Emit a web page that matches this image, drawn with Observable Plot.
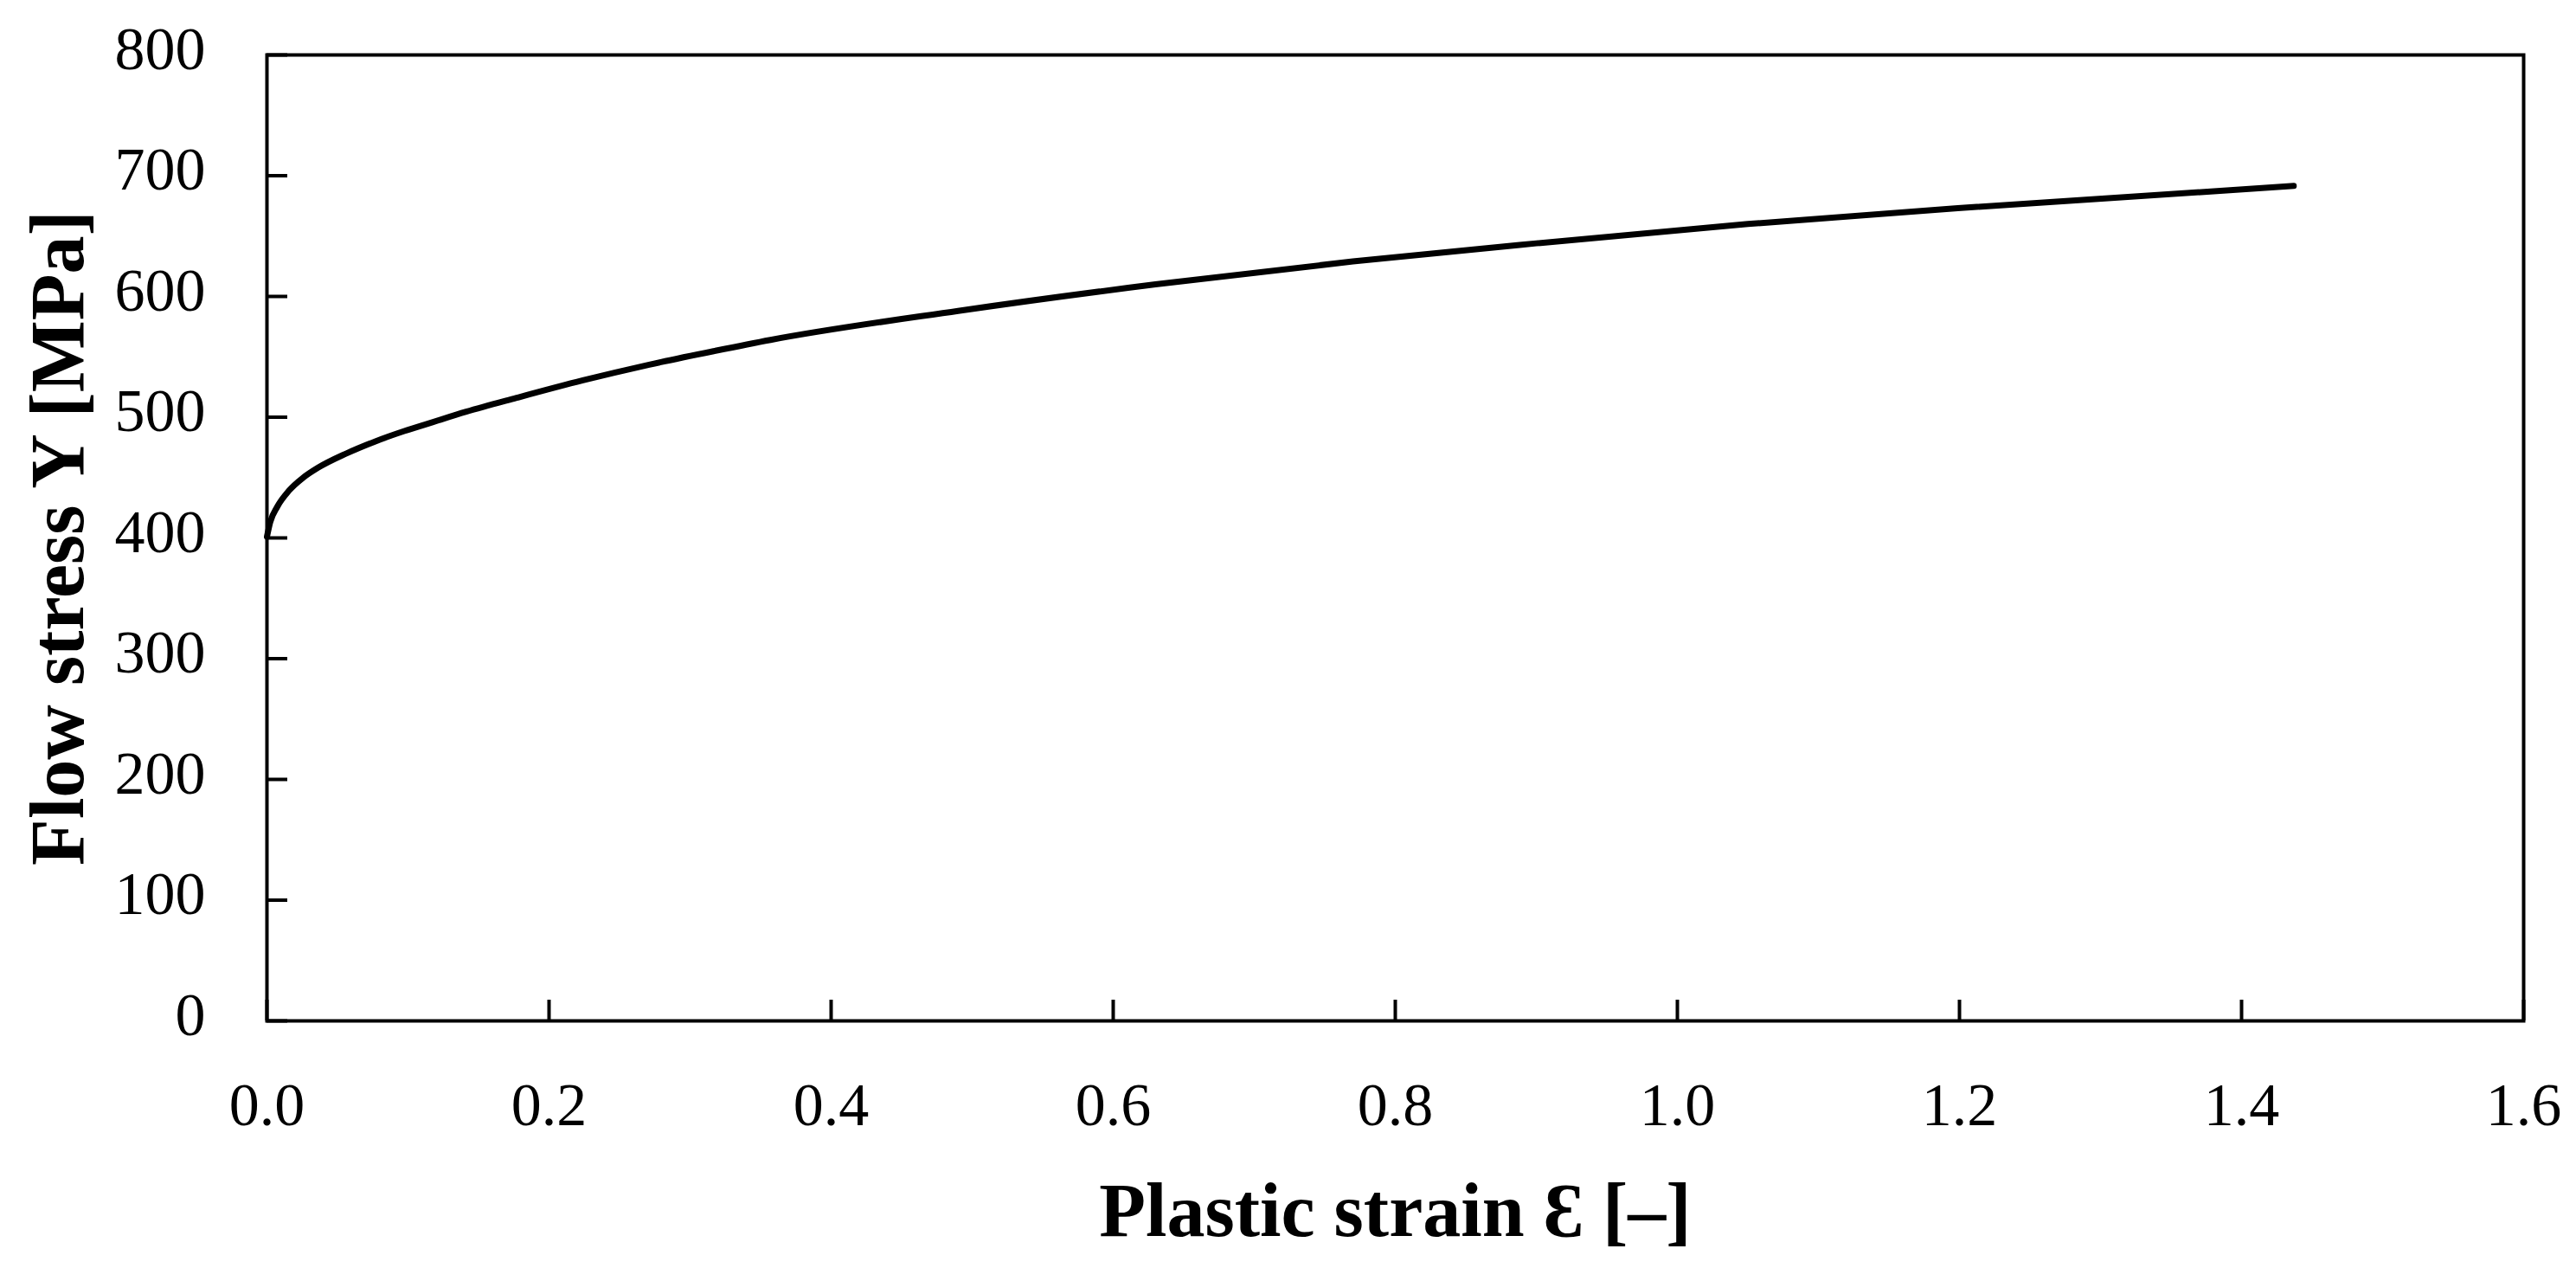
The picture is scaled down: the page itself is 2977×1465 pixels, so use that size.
<!DOCTYPE html>
<html><head><meta charset="utf-8">
<script src="https://cdn.jsdelivr.net/npm/d3@7"></script>
<script src="https://cdn.jsdelivr.net/npm/@observablehq/plot@0.6"></script>
<style>html,body{margin:0;padding:0;background:#fff}</style>
</head><body><div id="chart"></div>
<script>
// Values
const strain = [0, 0.0023, 0.0074, 0.0155, 0.0258, 0.036, 0.0564, 0.0769, 0.0974, 0.1178, 0.1413, 0.177, 0.224, 0.271, 0.318, 0.357, 0.49, 0.63, 0.77, 0.90, 1.05, 1.21, 1.437];
const stress = [401, 413, 426, 439, 450, 458, 470, 480, 488.5, 496, 504.5, 516, 530.5, 543.5, 555, 564, 588, 610, 629, 644, 660, 674, 691.5];
const xTicks = [0, 0.2, 0.4, 0.6, 0.8, 1.0, 1.2, 1.4, 1.6];
const yTicks = [0, 100, 200, 300, 400, 500, 600, 700, 800];
const xTitle = "Plastic strain Ɛ [–]";
const yTitle = "Flow stress Y [MPa]";

const data = strain.map((s, i) => ({strain: s, stress: stress[i]}));

const chart = Plot.plot({
  width: 2977,
  height: 1465,
  marginLeft: 308,
  marginRight: 61,
  marginTop: 63,
  marginBottom: 286,
  style: {fontFamily: "'Liberation Serif', serif", background: "white", color: "black", overflow: "visible"},
  x: {domain: [0, 1.6]},
  y: {domain: [0, 800]},
  marks: [
    Plot.axisX(xTicks, {tickSize: -24, strokeWidth: 4, tickFormat: () => "", label: null}),
    Plot.axisX(xTicks, {tickSize: 0, tickPadding: 71, fontSize: 70, tickFormat: d => d.toFixed(1), label: null}),
    Plot.axisY(yTicks, {tickSize: -24, strokeWidth: 4, tickFormat: () => "", label: null}),
    Plot.axisY(yTicks, {tickSize: 0, tickPadding: 71, fontSize: 70, dy: -6, tickFormat: d => String(d), label: null}),
    Plot.text([xTitle], {frameAnchor: "bottom", dy: 248, lineAnchor: "bottom", textAnchor: "middle", fontSize: 88, fontWeight: "bold"}),
    Plot.text([yTitle], {frameAnchor: "left", dx: -241, rotate: -90, textAnchor: "middle", lineAnchor: "middle", fontSize: 88, fontWeight: "bold"}),
    Plot.frame({stroke: "black", strokeWidth: 4}),
    Plot.line(data, {x: "strain", y: "stress", stroke: "black", strokeWidth: 7, curve: "monotone-x"})
  ]
});
document.getElementById("chart").appendChild(chart);
</script>
</body></html>
